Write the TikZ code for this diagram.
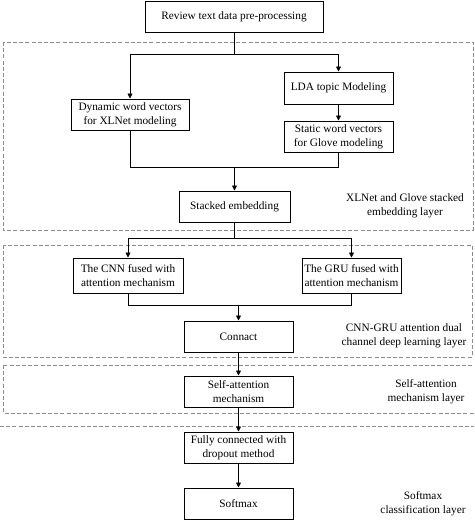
\documentclass[tikz,border=0pt]{standalone}
\usepackage{fontspec}
\setmainfont{Liberation Serif}
\usetikzlibrary{arrows.meta}
\begin{document}
\begin{tikzpicture}[x=1pt,y=-1pt,
  box/.style={draw=black,line width=1pt,fill=white,inner sep=0pt,align=center,font=\fontsize{11.3}{14}\selectfont},
  lbl/.style={inner sep=0pt,align=center,font=\fontsize{11.3}{14}\selectfont},
  layer/.style={draw=gray!90,line width=1pt,dash pattern=on 4pt off 2.2pt},
  conn/.style={line width=0.8pt},
  arr/.style={conn,-{Triangle[length=5pt,width=5pt]}}]
\useasboundingbox (0,0) rectangle (474,530);
% layers
\draw[layer] (3,42) rectangle (473,230);
\draw[layer] (3,245) rectangle (472,357);
\draw[layer] (3,365) rectangle (478,413);
\draw[layer] (0,426) -- (474,426);
% nodes
\node[box,minimum width=178,minimum height=31] (top) at (234,16.5) {Review text data pre-processing};
\node[box,minimum width=118,minimum height=31] (dyn) at (130,114.5) {Dynamic word vectors\\for XLNet modeling};
\node[box,minimum width=109,minimum height=32] (lda) at (338.5,88) {LDA topic Modeling};
\node[box,minimum width=109,minimum height=31] (stat) at (338.5,136.5) {Static word vectors\\for Glove modeling};
\node[box,minimum width=111,minimum height=31] (stk) at (234.5,206.5) {Stacked embedding};
\node[box,minimum width=110,minimum height=35] (cnn) at (128,275.5) {The CNN fused with\\attention mechanism};
\node[box,minimum width=99,minimum height=35] (gru) at (351.5,275.5) {The GRU fused with\\attention mechanism};
\node[box,minimum width=109,minimum height=31] (cat) at (238.5,336.5) {Connact};
\node[box,minimum width=109,minimum height=31] (sa) at (238.5,391.5) {Self-attention\\mechanism};
\node[box,minimum width=109,minimum height=31] (fc) at (238.5,447.5) {Fully connected with\\dropout method};
\node[box,minimum width=109,minimum height=31] (sm) at (238.5,503.5) {Softmax};
% labels
\node[lbl] (l1) at (405,206) {XLNet and Glove stacked\\embedding layer};
\node[lbl] (l2) at (404,336) {CNN-GRU attention dual\\channel deep learning layer};
\node[lbl] (l3) at (426,392) {Self-attention\\mechanism layer};
\node[lbl] (l4) at (423,503.5) {Softmax\\classification layer};
% connectors
\coordinate (j1) at (234,54);
\coordinate (j2) at (234.5,167);
\coordinate (j3) at (234.5,238);
\coordinate (j4) at (238.5,305);
\draw[conn] (top) -- (j1);
\draw[arr] (j1) -| (dyn);
\draw[arr] (j1) -| (lda);
\draw[arr] (lda) -- (stat);
\draw[conn] (dyn) |- (j2);
\draw[conn] (stat) |- (j2);
\draw[arr] (j2) -- (stk);
\draw[conn] (stk) -- (j3);
\draw[arr] (j3) -| (cnn);
\draw[arr] (j3) -| (gru);
\draw[conn] (cnn) |- (j4);
\draw[conn] (gru) |- (j4);
\draw[arr] (j4) -- (cat);
\draw[arr] (cat) -- (sa);
\draw[arr] (sa) -- (fc);
\draw[arr] (fc) -- (sm);
\end{tikzpicture}
\end{document}
